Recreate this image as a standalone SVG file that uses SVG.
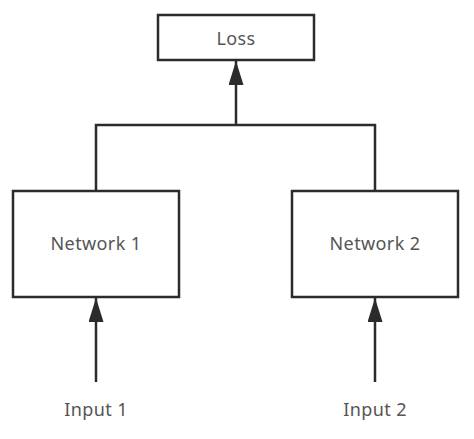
<svg xmlns="http://www.w3.org/2000/svg" width="474" height="439" viewBox="0 0 474 439">
<defs>
<style>
.box{fill:#fff;stroke:#2b2b2b;stroke-width:2.5}
.ln{fill:none;stroke:#2b2b2b;stroke-width:2.5}
.t{font-family:"Noto Sans","Open Sans",sans-serif;font-size:18px;letter-spacing:0.4px;fill:#555;text-anchor:middle;dominant-baseline:central}
</style>
<marker id="ah" markerUnits="userSpaceOnUse" markerWidth="24" markerHeight="15" refX="24" refY="7.5" viewBox="0 0 24 15" orient="auto">
<path d="M0,0 L24,7.5 L0,15 Z" fill="#2b2b2b"/>
</marker>
</defs>
<rect width="474" height="439" fill="#fff"/>
<g id="connectors">
<path class="ln" d="M96,191 V125 H375 V191"/>
<path class="ln" d="M236,125 V61" marker-end="url(#ah)"/>
<path class="ln" d="M96,382 V298" marker-end="url(#ah)"/>
<path class="ln" d="M375,382 V298" marker-end="url(#ah)"/>
</g>
<g id="loss"><rect class="box" x="158" y="15" width="156" height="45"/><text class="t" x="236" y="38">Loss</text></g>
<g id="network1"><rect class="box" x="13" y="191" width="166" height="106"/><text class="t" x="96" y="243">Network 1</text></g>
<g id="network2"><rect class="box" x="292" y="191" width="166" height="106"/><text class="t" x="375" y="243">Network 2</text></g>
<g id="input1"><text class="t" x="96" y="409">Input 1</text></g>
<g id="input2"><text class="t" x="375" y="409">Input 2</text></g>
</svg>
